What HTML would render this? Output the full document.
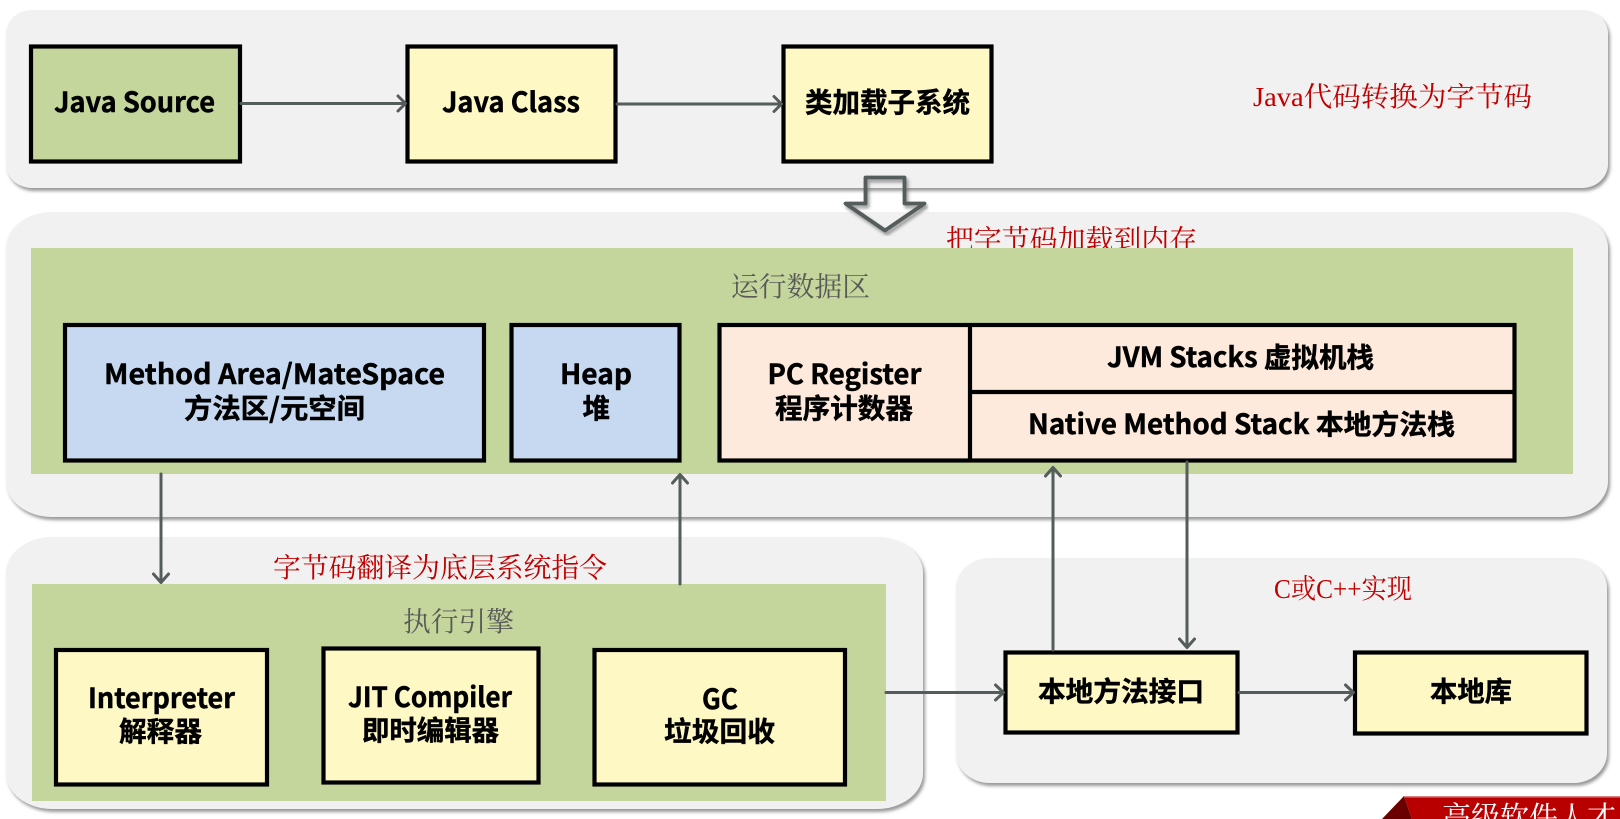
<!DOCTYPE html>
<html lang="zh"><head><meta charset="utf-8"><title>JVM</title>
<style>
html,body{margin:0;padding:0;background:#fff;width:1620px;height:819px;overflow:hidden}
svg{display:block}
.b{font-family:"Noto Sans CJK SC","Liberation Sans",sans-serif;font-weight:700;font-size:27.5px;fill:#000;stroke:#000;stroke-width:.45}
.s{font-family:"Liberation Serif","Noto Serif CJK SC",serif;font-size:27.5px}
.r{fill:#c00000}
.g{fill:#595959}
.box{stroke:#000;stroke-width:4.2;stroke-linejoin:miter}
.ar{fill:none;stroke:#555c5c;stroke-width:3;stroke-linecap:round;stroke-linejoin:round}
</style></head><body>
<svg xmlns="http://www.w3.org/2000/svg" width="1620" height="819" viewBox="0 0 1620 819">
<defs><filter id="sh" x="-5%" y="-10%" width="110%" height="120%"><feDropShadow dx="2" dy="3" stdDeviation="1.6" flood-color="#777" flood-opacity=".75"/></filter></defs>
<rect width="1620" height="819" fill="#fff"/>
<g filter="url(#sh)" fill="#f1f1f1">
<rect x="6" y="10" width="1602" height="178" rx="26" ry="24"/>
<rect x="6" y="212" width="1602" height="305" rx="46" ry="36"/>
<rect x="6" y="537" width="917" height="272" rx="46" ry="36"/>
<rect x="956" y="558" width="651" height="225" rx="34" ry="30"/>
</g>
<g class="s r">
<text x="1253" y="106" textLength="279" lengthAdjust="spacingAndGlyphs">Java代码转换为字节码</text>
<text x="946" y="249" textLength="251" lengthAdjust="spacingAndGlyphs">把字节码加载到内存</text>
<text x="273" y="577" textLength="334" lengthAdjust="spacingAndGlyphs">字节码翻译为底层系统指令</text>
<text x="1274" y="598" textLength="138" lengthAdjust="spacingAndGlyphs">C或C++实现</text>
</g>
<rect x="31" y="248" width="1542" height="226" fill="#c4d69b"/>
<rect x="32" y="584" width="854" height="217" fill="#c4d69b"/>
<g class="s g">
<text x="731" y="296" textLength="139" lengthAdjust="spacingAndGlyphs">运行数据区</text>
<text x="403" y="631" textLength="111" lengthAdjust="spacingAndGlyphs">执行引擎</text>
</g>
<g class="box">
<rect x="31" y="46.5" width="209" height="115" fill="#c4d69b"/>
<rect x="407.5" y="46.5" width="208" height="115" fill="#fef8c4"/>
<rect x="783.5" y="46.5" width="208" height="115" fill="#fef8c4"/>
<rect x="65" y="325" width="419" height="135.500" fill="#c6d9f1"/>
<rect x="511.500" y="325" width="168" height="135.500" fill="#c6d9f1"/>
<rect x="719.500" y="325" width="795" height="135.500" fill="#fdeadc"/>
<line x1="970" y1="325" x2="970" y2="460.500"/>
<line x1="970" y1="392" x2="1514.500" y2="392"/>
<rect x="56" y="650" width="211" height="134.500" fill="#fef8c4"/>
<rect x="323.500" y="648.500" width="215" height="134" fill="#fef8c4"/>
<rect x="594.500" y="650" width="250.500" height="134.500" fill="#fef8c4"/>
<rect x="1005.500" y="652.500" width="232" height="80" fill="#fef8c4"/>
<rect x="1355" y="652.500" width="231.500" height="81" fill="#fef8c4"/>
</g>
<g class="b">
<text x="54" y="112" textLength="161" lengthAdjust="spacingAndGlyphs">Java Source</text>
<text x="442" y="112" textLength="138" lengthAdjust="spacingAndGlyphs">Java Class</text>
<text x="805" y="112" textLength="165" lengthAdjust="spacingAndGlyphs">类加载子系统</text>
<text x="104" y="384" textLength="341" lengthAdjust="spacingAndGlyphs">Method Area/MateSpace</text>
<text x="184" y="418" textLength="181" lengthAdjust="spacingAndGlyphs">方法区/元空间</text>
<text x="560" y="384" textLength="72" lengthAdjust="spacingAndGlyphs">Heap</text>
<text x="582.500" y="418">堆</text>
<text x="767.500" y="384" textLength="154" lengthAdjust="spacingAndGlyphs">PC Register</text>
<text x="775" y="418" textLength="138" lengthAdjust="spacingAndGlyphs">程序计数器</text>
<text x="1107" y="367" textLength="267" lengthAdjust="spacingAndGlyphs">JVM Stacks 虚拟机栈</text>
<text x="1028" y="434" textLength="427" lengthAdjust="spacingAndGlyphs">Native Method Stack 本地方法栈</text>
<text x="88" y="708" textLength="147" lengthAdjust="spacingAndGlyphs">Interpreter</text>
<text x="119" y="741" textLength="83" lengthAdjust="spacingAndGlyphs">解释器</text>
<text x="348" y="707" textLength="164" lengthAdjust="spacingAndGlyphs">JIT Compiler</text>
<text x="362" y="740" textLength="137" lengthAdjust="spacingAndGlyphs">即时编辑器</text>
<text x="702" y="709" textLength="36" lengthAdjust="spacingAndGlyphs">GC</text>
<text x="664" y="741" textLength="111" lengthAdjust="spacingAndGlyphs">垃圾回收</text>
<text x="1038" y="701" textLength="166" lengthAdjust="spacingAndGlyphs">本地方法接口</text>
<text x="1430" y="701" textLength="82" lengthAdjust="spacingAndGlyphs">本地库</text>
</g>
<g class="ar">
<path d="M241 103.500H405M398 96L405.500 103.500L398 111"/>
<path d="M617 104H781M774 96.500L781.500 104L774 111.500"/>
<path d="M161 474V582M153.500 574L161 582.500L168.500 574"/>
<path d="M680 584V475M672.500 483L680 474.500L687.500 483"/>
<path d="M1053 650V468M1045.500 476L1053 467.500L1060.500 476"/>
<path d="M1187 462V647M1179.500 639L1187 647.500L1194.500 639"/>
<path d="M886 692.500H1003M995.500 685L1003.500 692.500L995.500 700"/>
<path d="M1239 692.500H1353M1345.500 685L1353.500 692.500L1345.500 700"/>
</g>
<path d="M865.500 177.500H904.500V203.500H924.500L885 230.500L845.500 203.500H865.500Z" fill="none" stroke="#555c5c" stroke-width="3.800" stroke-linejoin="round" filter="url(#sh)"/>
<path d="M1382 819L1404 796L1412 819Z" fill="#6b0000"/>
<path d="M1404 796H1620V819H1412Z" fill="#b80000"/>
<rect x="1404" y="796" width="216" height="1.500" fill="#e08080"/>
<text x="1442" y="827" font-size="29" fill="#fff" font-family="'Liberation Serif','Noto Serif CJK SC',serif">高级软件人才</text>
</svg>
</body></html>
